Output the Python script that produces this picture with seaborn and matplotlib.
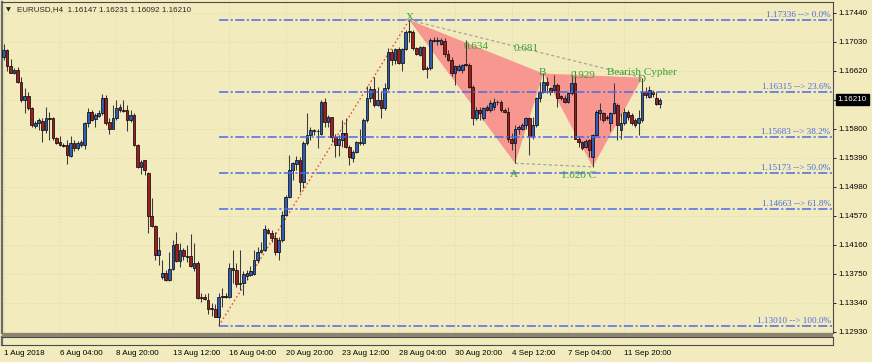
import numpy as np
import pandas as pd
import matplotlib
matplotlib.use("Agg")
import matplotlib.pyplot as plt
from matplotlib.patches import Polygon, Rectangle
import seaborn as sns

# ---------------- data ----------------
symbol = "EURUSD"
timeframe = "H4"

opens = [1.1682,1.1691,1.1668,1.1658,1.1663,1.1646,1.1620,1.1626,1.1609,1.1584,
         1.1588,1.1591,1.1578,1.1595,1.1595,1.1567,1.1561,1.1557,1.1557,1.1541,
         1.1560,1.1552,1.1557,1.1557,1.1588,1.1604,1.1593,1.1598,1.1602,1.1623,
         1.1590,1.1580,1.1595,1.1610,1.1606,1.1606,1.1592,1.1599,1.1557,1.1526,
         1.1535,1.1517,1.1456,1.1442,1.1401,1.1370,1.1376,1.1366,1.1381,1.1417,
         1.1393,1.1409,1.1400,1.1400,1.1383,1.1390,1.1342,1.1342,1.1337,1.1327,
         1.1325,1.1314,1.1342,1.1343,1.1342,1.1383,1.1380,1.1360,1.1362,1.1371,
         1.1373,1.1375,1.1394,1.1406,1.1409,1.1437,1.1433,1.1425,1.1406,1.1422,
         1.1458,1.1483,1.1522,1.1530,1.1535,1.1504,1.1559,1.1571,1.1578,1.1577,
         1.1573,1.1618,1.1590,1.1596,1.1568,1.1557,1.1564,1.1574,1.1554,1.1538,
         1.1547,1.1561,1.1560,1.1592,1.1623,1.1636,1.1613,1.1620,1.1609,1.1637,
         1.1689,1.1677,1.1692,1.1673,1.1692,1.1717,1.1717,1.1694,1.1684,1.1696,
         1.1665,1.1666,1.1705,1.1704,1.1700,1.1704,1.1686,1.1677,1.1658,1.1663,
         1.1663,1.1670,1.1670,1.1639,1.1595,1.1606,1.1595,1.1611,1.1606,1.1611,
         1.1617,1.1618,1.1606,1.1604,1.1566,1.1559,1.1579,1.1580,1.1585,1.1595,
         1.1569,1.1585,1.1623,1.1632,1.1646,1.1637,1.1635,1.1642,1.1626,1.1624,
         1.1618,1.1630,1.1644,1.1566,1.1561,1.1554,1.1564,1.1540,1.1571,1.1602,
         1.1602,1.1595,1.1588,1.1602,1.1613,1.1578,1.1588,1.1604,1.1599,1.1592,
         1.1588,1.1592,1.1632,1.1625,1.1632,1.1624,1.16147]

highs = [1.1700,1.1693,1.1678,1.1666,1.1667,1.1653,1.1638,1.1632,1.1611,1.1591,
         1.1595,1.1595,1.1611,1.1604,1.1596,1.1568,1.1569,1.1560,1.1564,1.1570,
         1.1564,1.1562,1.1564,1.1590,1.1609,1.1606,1.1602,1.1606,1.1629,1.1628,
         1.1595,1.1613,1.1620,1.1615,1.1620,1.1613,1.1607,1.1602,1.1558,1.1536,
         1.1536,1.1519,1.1482,1.1444,1.1427,1.1394,1.1380,1.1406,1.1423,1.1434,
         1.1418,1.1411,1.1416,1.1431,1.1418,1.1393,1.1347,1.1346,1.1347,1.1333,
         1.1332,1.1347,1.1355,1.1348,1.1390,1.1408,1.1390,1.1408,1.1378,1.1380,
         1.1386,1.1409,1.1413,1.1420,1.1444,1.1439,1.1437,1.1434,1.1427,1.1463,
         1.1486,1.1543,1.1533,1.1541,1.1540,1.1562,1.1602,1.1583,1.1580,1.1580,
         1.1621,1.1623,1.1599,1.1597,1.1573,1.1571,1.1592,1.1595,1.1557,1.1550,
         1.1563,1.1580,1.1595,1.1640,1.1640,1.1653,1.1639,1.1632,1.1644,1.1694,
         1.1692,1.1694,1.1696,1.1694,1.1720,1.17336,1.1720,1.1696,1.1697,1.1697,
         1.1668,1.1708,1.1710,1.1710,1.1708,1.1708,1.1691,1.1682,1.1670,1.1671,
         1.1672,1.1705,1.1673,1.1642,1.1611,1.1611,1.1611,1.1613,1.1620,1.1623,
         1.1620,1.1620,1.1609,1.1611,1.1574,1.1585,1.1585,1.1588,1.1597,1.1597,
         1.1597,1.1625,1.1646,1.1658,1.1653,1.1639,1.1656,1.1644,1.1628,1.1628,
         1.1632,1.1656,1.1661,1.1569,1.1563,1.1565,1.1566,1.1573,1.1606,1.1616,
         1.1604,1.1599,1.1604,1.1644,1.1616,1.1602,1.1609,1.1606,1.1602,1.1595,
         1.1606,1.1652,1.1639,1.1640,1.1635,1.1632,1.16231]

lows = [1.1677,1.1661,1.1658,1.1657,1.1645,1.1618,1.1602,1.1606,1.1582,1.1581,
        1.1578,1.1561,1.1574,1.1564,1.1564,1.1558,1.1556,1.1554,1.1530,1.1540,
        1.1549,1.1550,1.1554,1.1551,1.1583,1.1591,1.1582,1.1596,1.1599,1.1585,
        1.1572,1.1579,1.1592,1.1604,1.1604,1.1576,1.1590,1.1556,1.1525,1.1516,
        1.1514,1.1432,1.1441,1.1394,1.1387,1.1368,1.1365,1.1365,1.1380,1.1392,
        1.1384,1.1394,1.1392,1.1384,1.1379,1.1339,1.1335,1.1337,1.1318,1.1315,
        1.1313,1.1301,1.1328,1.1340,1.1341,1.1362,1.1356,1.1352,1.1345,1.1366,
        1.1371,1.1373,1.1390,1.1404,1.1407,1.1431,1.1419,1.1401,1.1394,1.1420,
        1.1456,1.1482,1.1507,1.1522,1.1491,1.1496,1.1557,1.1564,1.1571,1.1552,
        1.1571,1.1583,1.1582,1.1561,1.1540,1.1541,1.1554,1.1552,1.1529,1.1533,
        1.1545,1.1557,1.1557,1.1590,1.1618,1.1611,1.1612,1.1595,1.1606,1.1635,
        1.1670,1.1672,1.1671,1.1662,1.1691,1.1703,1.1691,1.1684,1.1683,1.1663,
        1.1651,1.1663,1.1703,1.1698,1.1698,1.1682,1.1675,1.1654,1.1642,1.1661,
        1.1658,1.1668,1.1637,1.1585,1.1592,1.1592,1.1592,1.1605,1.1604,1.1606,
        1.1613,1.1604,1.1602,1.1561,1.1550,1.1531,1.1573,1.1578,1.1580,1.1543,
        1.1566,1.1583,1.1618,1.1630,1.1630,1.1628,1.1632,1.1611,1.1620,1.1616,
        1.1616,1.1628,1.1565,1.1554,1.1550,1.1553,1.1540,1.1526,1.1569,1.1592,
        1.1590,1.1592,1.1576,1.1601,1.1564,1.1566,1.1585,1.1592,1.1585,1.1583,
        1.1571,1.1590,1.1623,1.1623,1.1625,1.1613,1.16092]

closes = [1.1691,1.1669,1.1659,1.1663,1.1646,1.1620,1.1626,1.1609,1.1585,1.1588,
          1.1592,1.1578,1.1595,1.1594,1.1567,1.1560,1.1557,1.1556,1.1543,1.1560,
          1.1552,1.1560,1.1561,1.1588,1.1604,1.1592,1.1599,1.1602,1.1623,1.1588,
          1.1580,1.1595,1.1609,1.1606,1.1605,1.1592,1.1599,1.1557,1.1526,1.1533,
          1.1522,1.1456,1.1442,1.1401,1.1409,1.1376,1.1366,1.1381,1.1416,1.1393,
          1.1409,1.1400,1.1399,1.1386,1.1390,1.1340,1.1341,1.1339,1.1325,1.1325,
          1.1314,1.1342,1.1343,1.1342,1.1383,1.1380,1.1360,1.1362,1.1375,1.1376,
          1.1378,1.1394,1.1406,1.1409,1.1438,1.1432,1.1425,1.1406,1.1422,1.1458,
          1.1483,1.1522,1.1531,1.1535,1.1504,1.1559,1.1571,1.1578,1.1577,1.1576,
          1.1618,1.1590,1.1596,1.1568,1.1557,1.1566,1.1574,1.1554,1.1540,1.1547,
          1.1561,1.1560,1.1592,1.1623,1.1636,1.1613,1.1620,1.1609,1.1637,1.1689,
          1.1677,1.1692,1.1673,1.1692,1.1717,1.1718,1.1694,1.1686,1.1696,1.1665,
          1.1666,1.1705,1.1704,1.1706,1.1705,1.1686,1.1677,1.1658,1.1668,1.1668,
          1.1670,1.1671,1.1639,1.1595,1.1606,1.1602,1.1609,1.1606,1.1616,1.1617,
          1.1618,1.1606,1.1604,1.1566,1.1559,1.1580,1.1583,1.1585,1.1595,1.1569,
          1.1585,1.1623,1.1632,1.1646,1.1642,1.1632,1.1642,1.1624,1.1623,1.1618,
          1.1630,1.1644,1.1566,1.1561,1.1552,1.1563,1.1550,1.1571,1.1604,1.1606,
          1.1592,1.1597,1.1602,1.1616,1.1585,1.1588,1.1604,1.1597,1.1588,1.1585,
          1.1595,1.1632,1.1628,1.1635,1.1629,1.1615,1.16210]

time_labels = ["1 Aug 2018", "6 Aug 04:00", "8 Aug 20:00", "13 Aug 12:00",
               "16 Aug 04:00", "20 Aug 20:00", "23 Aug 12:00", "28 Aug 04:00",
               "30 Aug 20:00", "4 Sep 12:00", "7 Sep 04:00", "11 Sep 20:00"]
time_label_bars = [0, 16, 32, 48, 64, 80, 96, 112, 128, 144, 160, 176]

price_ticks = [1.17440, 1.17030, 1.16620, 1.16210, 1.15800, 1.15390,
               1.14980, 1.14570, 1.14160, 1.13750, 1.13340, 1.12930]
last_price = 1.16210

fib_low, fib_high = 1.13010, 1.17336
fib_low_bar, fib_high_bar = 61, 115
fib_levels = [1.17336, 1.16315, 1.15683, 1.15173, 1.14663, 1.13010]
fib_pcts = ["0.0%", "23.6%", "38.2%", "50.0%", "61.8%", "100.0%"]

pattern_names = ["X", "A", "B", "C", "D"]
pattern_bars = [115, 145, 153, 167, 181]
pattern_prices = [1.17336, 1.1531, 1.1658, 1.1526, 1.1652]
ratio_labels = ["0.634", "0.681", "0.929", "1.020"]
pattern_title = "Bearish Cypher"

# ---------------- style ----------------
W, H = 872, 362
BG = "#F2EBBE"
BULL = "#2F5CB5"
BEAR = "#9E1E1E"
FIBC = "#4A6BE5"
TRI = "#F7978F"
GREEN = "#35A235"
GRID = "#E2D7A2"

sns.set_style("white", {"axes.facecolor": BG, "figure.facecolor": BG})
plt.rcParams["font.family"] = ["Liberation Sans", "DejaVu Sans"]
SERIF = ["Liberation Serif", "DejaVu Serif"]

fig = plt.figure(figsize=(W / 100, H / 100), dpi=100)
fig.patch.set_facecolor(BG)


def fbox(x0, y0, x1, y1):
    return [x0 / W, 1 - y1 / H, (x1 - x0) / W, (y1 - y0) / H]


ax = fig.add_axes(fbox(2, 2, 833, 333))
ax2 = fig.add_axes(fbox(2, 337, 833, 345))
fig.patches.append(Rectangle((2 / W, 1 - 337 / H), 831 / W, 4 / H,
                             transform=fig.transFigure, facecolor="#8A8572",
                             edgecolor="none", zorder=5))

XMIN, XMAX = -0.43, 235.1
YMIN, YMAX = 1.12910, 1.17591
for a in (ax, ax2):
    a.set_facecolor(BG)
    a.set_xlim(XMIN, XMAX)
    for s in a.spines.values():
        s.set_color("#4a4a4a")
        s.set_linewidth(0.8)
ax.spines["left"].set_linewidth(1.6)
ax.spines["left"].set_color("#6a6a6a")
ax2.spines["left"].set_linewidth(1.6)
ax2.spines["left"].set_color("#6a6a6a")
ax.set_ylim(YMIN, YMAX)

df = pd.DataFrame({"bar": np.arange(len(closes)), "open": opens, "high": highs,
                   "low": lows, "close": closes})

# grid
ax.set_xticks(time_label_bars)
ax.set_xticklabels([])
ax.tick_params(axis="x", length=0)
ax.yaxis.tick_right()
ax.set_yticks(price_ticks)
ax.set_yticklabels(["" if abs(v - last_price) < 1e-9 else f"{v:.5f}" for v in price_ticks])
ax.tick_params(axis="y", direction="out", length=2.2, width=0.6, pad=1.5,
               labelsize=5.8, colors="black")
ax.grid(True, color=GRID, linestyle=(0, (1, 2)), linewidth=0.7, zorder=0)
ax.set_axisbelow(True)

# pattern triangles
pts = {n: (b, p) for n, b, p in zip(pattern_names, pattern_bars, pattern_prices)}
ax.add_patch(Polygon([pts["X"], pts["A"], pts["B"]], closed=True, facecolor=TRI,
                     edgecolor="none", zorder=1))
ax.add_patch(Polygon([pts["B"], pts["C"], pts["D"]], closed=True, facecolor=TRI,
                     edgecolor="none", zorder=1))
for p1, p2 in (("X", "D"), ("A", "C")):
    ax.plot([pts[p1][0], pts[p2][0]], [pts[p1][1], pts[p2][1]], color="#A8A69A",
            lw=0.9, linestyle=(0, (2.5, 2)), zorder=2)

# fib trend line (low -> X)
sns.lineplot(x=[fib_low_bar, fib_high_bar], y=[fib_low, fib_high], ax=ax,
             color="#E8503A", lw=1.0, linestyle=(0, (1.2, 1.8)), zorder=2)

# candles
up = df["close"] >= df["open"]
ax.vlines(df["bar"], df["low"], df["high"], color="#3a3a3a", lw=0.75, zorder=3)
for mask, col in ((up, BULL), (~up, BEAR)):
    sub = df[mask]
    ax.bar(sub["bar"], sub["close"] - sub["open"], bottom=sub["open"], width=0.76,
           color=col, edgecolor="black", linewidth=0.5, zorder=4)

# fib levels
for lvl, pct in zip(fib_levels, fib_pcts):
    ax.plot([fib_low_bar, XMAX], [lvl, lvl], color=FIBC, lw=1.1,
            linestyle=(0, (6, 1.6, 1.4, 1.6)), zorder=5)
    ax.annotate(f"{lvl:.5f} --> {pct}", xy=(0.9972, lvl),
                xycoords=("axes fraction", "data"), xytext=(0, 3.8),
                textcoords="offset points", ha="right", va="center",
                fontsize=6.6, family=SERIF, color=FIBC, zorder=6)

# pattern labels
def lab(text, xy, dx, dy, ha="center"):
    ax.annotate(text, xy=xy, xytext=(dx * 0.72, dy * 0.72), textcoords="offset points",
                ha=ha, va="center", fontsize=8, family=SERIF, color=GREEN, zorder=7)


def mid(p, q):
    return ((pts[p][0] + pts[q][0]) / 2, (pts[p][1] + pts[q][1]) / 2)


lab("X", pts["X"], 0, 2.5)
lab(ratio_labels[0], mid("X", "B"), 0, 0)
lab(ratio_labels[1], mid("X", "D"), 0, 0)
lab(ratio_labels[2], mid("B", "D"), -10, 0)
lab("A", pts["A"], -1, -11)
lab("B", pts["B"], -1, 1)
lab(f"{ratio_labels[3]} C", pts["C"], 3.5, -9, ha="right")
lab("D", pts["D"], 0, -2)
lab(pattern_title, pts["D"], 0, 5.5)

# current price box
ax.annotate(f"{last_price:.5f}", xy=(1, last_price), xycoords=("axes fraction", "data"),
            xytext=(3.4, 0), textcoords="offset points", ha="left", va="center",
            fontsize=5.8, color="white", annotation_clip=False,
            bbox=dict(boxstyle="square,pad=0.22", fc="black", ec="black"))

# bottom time axis
ax2.set_ylim(0, 1)
ax2.set_yticks([])
ax2.set_xticks(time_label_bars)
ax2.set_xticklabels(time_labels)
ax2.tick_params(axis="x", direction="out", length=2.2, width=0.6, pad=1.2,
                labelsize=5.8, colors="black")
for t in ax2.get_xticklabels():
    t.set_ha("left")

# title
fig.text(6 / W, 1 - 10 / H, "\u25BC", fontsize=4.5, family=["DejaVu Sans"],
         va="center", ha="left")
fig.text(16.5 / W, 1 - 10 / H,
         f"{symbol},{timeframe}  {opens[-1]:.5f} {highs[-1]:.5f} {lows[-1]:.5f} {closes[-1]:.5f}",
         fontsize=5.8, va="center", ha="left")

fig.savefig("out.png", dpi=100, facecolor=BG)
